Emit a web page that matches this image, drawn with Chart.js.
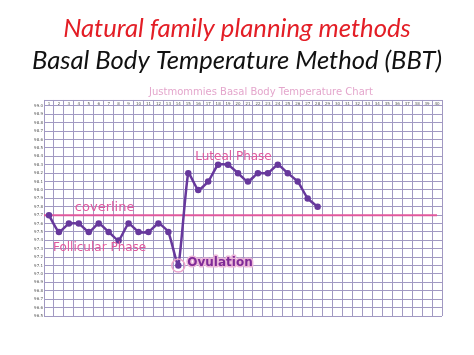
<!DOCTYPE html>
<html>
<head>
<meta charset="utf-8">
<script src="https://cdn.jsdelivr.net/npm/chart.js@4"></script>
<style>
  html, body { margin: 0; padding: 0; background: #fff; }
  canvas { display: block; }
</style>
</head>
<body>
<canvas id="bbtChart" width="474" height="355"></canvas>
<script>
// cycle days shown in the header row
const days = ['1','2','3','4','5','6','7','8','9','10','11','12','13','14','15','16','17','18','19','20',
              '21','22','23','24','25','26','27','28','29','30','31','32','33','34','35','36','37','38','39','40'];
// basal temperature (F) recorded for each day
const temperatures = [97.7, 97.5, 97.6, 97.6, 97.5, 97.6, 97.5, 97.4, 97.6, 97.5, 97.5, 97.6, 97.5, 97.1,
                      98.2, 98.0, 98.1, 98.3, 98.3, 98.2, 98.1, 98.2, 98.2, 98.3, 98.2, 98.1, 97.9, 97.8];
const coverline = 97.7;
const ovulationDay = 14;
const tempMin = 96.5;
const tempMax = 99.0;

const gridColor = '#a199c2';
const pink = '#e0589d';

const bbtAnnotations = {
    id: 'bbtAnnotations',
    beforeDatasetsDraw(chart) {
        const ctx = chart.ctx;
        const x = chart.scales.x;
        const y = chart.scales.y;
        const area = chart.chartArea;
        ctx.save();
        // top edge of header row
        ctx.strokeStyle = gridColor;
        ctx.lineWidth = 1;
        ctx.beginPath();
        ctx.moveTo(area.left, x.top + 0.5);
        ctx.lineTo(area.right, x.top + 0.5);
        ctx.stroke();
        // coverline
        const cy = y.getPixelForValue(coverline);
        ctx.strokeStyle = pink;
        ctx.lineWidth = 2;
        ctx.beginPath();
        ctx.moveTo(area.left, cy);
        ctx.lineTo(x.getPixelForValue(days.length - 1), cy);
        ctx.stroke();
        ctx.restore();
    },
    afterDatasetsDraw(chart) {
        const ctx = chart.ctx;
        const x = chart.scales.x;
        const y = chart.scales.y;
        ctx.save();
        ctx.textBaseline = 'middle';

        // caption above the grid
        ctx.fillStyle = '#e4a6cc';
        ctx.font = '10px "DejaVu Sans"';
        ctx.textAlign = 'center';
        ctx.fillText('Justmommies Basal Body Temperature Chart', x.getPixelForValue(21.3), x.top - 8);

        ctx.textAlign = 'left';
        ctx.fillStyle = pink;
        ctx.font = '13px "DejaVu Sans"';
        ctx.fillText('coverline', x.getPixelForValue(2.6), y.getPixelForValue(97.79));
        ctx.font = '12px "DejaVu Sans"';
        ctx.fillText('Follicular Phase', x.getPixelForValue(0.4), y.getPixelForValue(97.31));
        ctx.fillText('Luteal Phase', x.getPixelForValue(14.7), y.getPixelForValue(98.40));

        // ovulation marker
        const ox = x.getPixelForValue(ovulationDay - 1);
        const oy = y.getPixelForValue(temperatures[ovulationDay - 1]);
        ctx.strokeStyle = '#eaa3cb';
        ctx.lineWidth = 1.5;
        ctx.beginPath();
        ctx.arc(ox, oy, 6.5, 0, Math.PI * 2);
        ctx.stroke();

        ctx.font = 'bold 12px "DejaVu Sans"';
        ctx.lineJoin = 'round';
        ctx.strokeStyle = '#eab6d8';
        ctx.lineWidth = 3;
        const tx = x.getPixelForValue(13.9);
        const ty = y.getPixelForValue(97.13);
        ctx.strokeText('Ovulation', tx, ty);
        ctx.fillStyle = '#7f2a97';
        ctx.fillText('Ovulation', tx, ty);
        ctx.restore();
    }
};

const ctx = document.getElementById('bbtChart').getContext('2d');
new Chart(ctx, {
    type: 'line',
    data: {
        labels: days,
        datasets: [{
            label: 'Basal body temperature',
            data: temperatures,
            borderColor: '#67389c',
            backgroundColor: '#67389c',
            borderWidth: 2.5,
            pointRadius: 2,
            pointHoverRadius: 2,
            tension: 0.15,
            fill: false
        }]
    },
    options: {
        responsive: false,
        devicePixelRatio: 1,
        animation: false,
        layout: {
            padding: { left: 32, right: 32, top: 0, bottom: 39 }
        },
        plugins: {
            legend: { display: false },
            tooltip: { enabled: false },
            title: {
                display: true,
                text: 'Natural family planning methods',
                color: '#e31e26',
                font: { family: 'Lato', size: 25.7, style: 'italic', weight: 'normal' },
                padding: { top: 13.6, bottom: 1.1 }
            },
            subtitle: {
                display: true,
                text: 'Basal Body Temperature Method (BBT)',
                color: '#111',
                font: { family: 'Lato', size: 25.7, style: 'italic', weight: 'normal' },
                padding: { top: 0, bottom: 23.6 }
            }
        },
        scales: {
            x: {
                type: 'category',
                position: 'top',
                offset: true,
                grid: { offset: true, color: gridColor, lineWidth: 1, tickLength: 6, tickColor: gridColor },
                border: { color: gridColor },
                ticks: {
                    autoSkip: false,
                    maxRotation: 0,
                    padding: -6,
                    color: '#555',
                    font: { family: 'DejaVu Sans', size: 4 }
                },
                afterFit: function(scale) { scale.height = 6; }
            },
            y: {
                min: tempMin,
                max: tempMax,
                grid: { color: gridColor, lineWidth: 1, drawTicks: false },
                border: { color: gridColor },
                ticks: {
                    stepSize: 0.1,
                    autoSkip: false,
                    padding: 1,
                    color: '#555',
                    font: { family: 'DejaVu Sans', size: 4 },
                    callback: function(value) { return value.toFixed(1); }
                },
                afterFit: function(scale) { scale.width = 12; }
            }
        }
    },
    plugins: [bbtAnnotations]
});
</script>
</body>
</html>
